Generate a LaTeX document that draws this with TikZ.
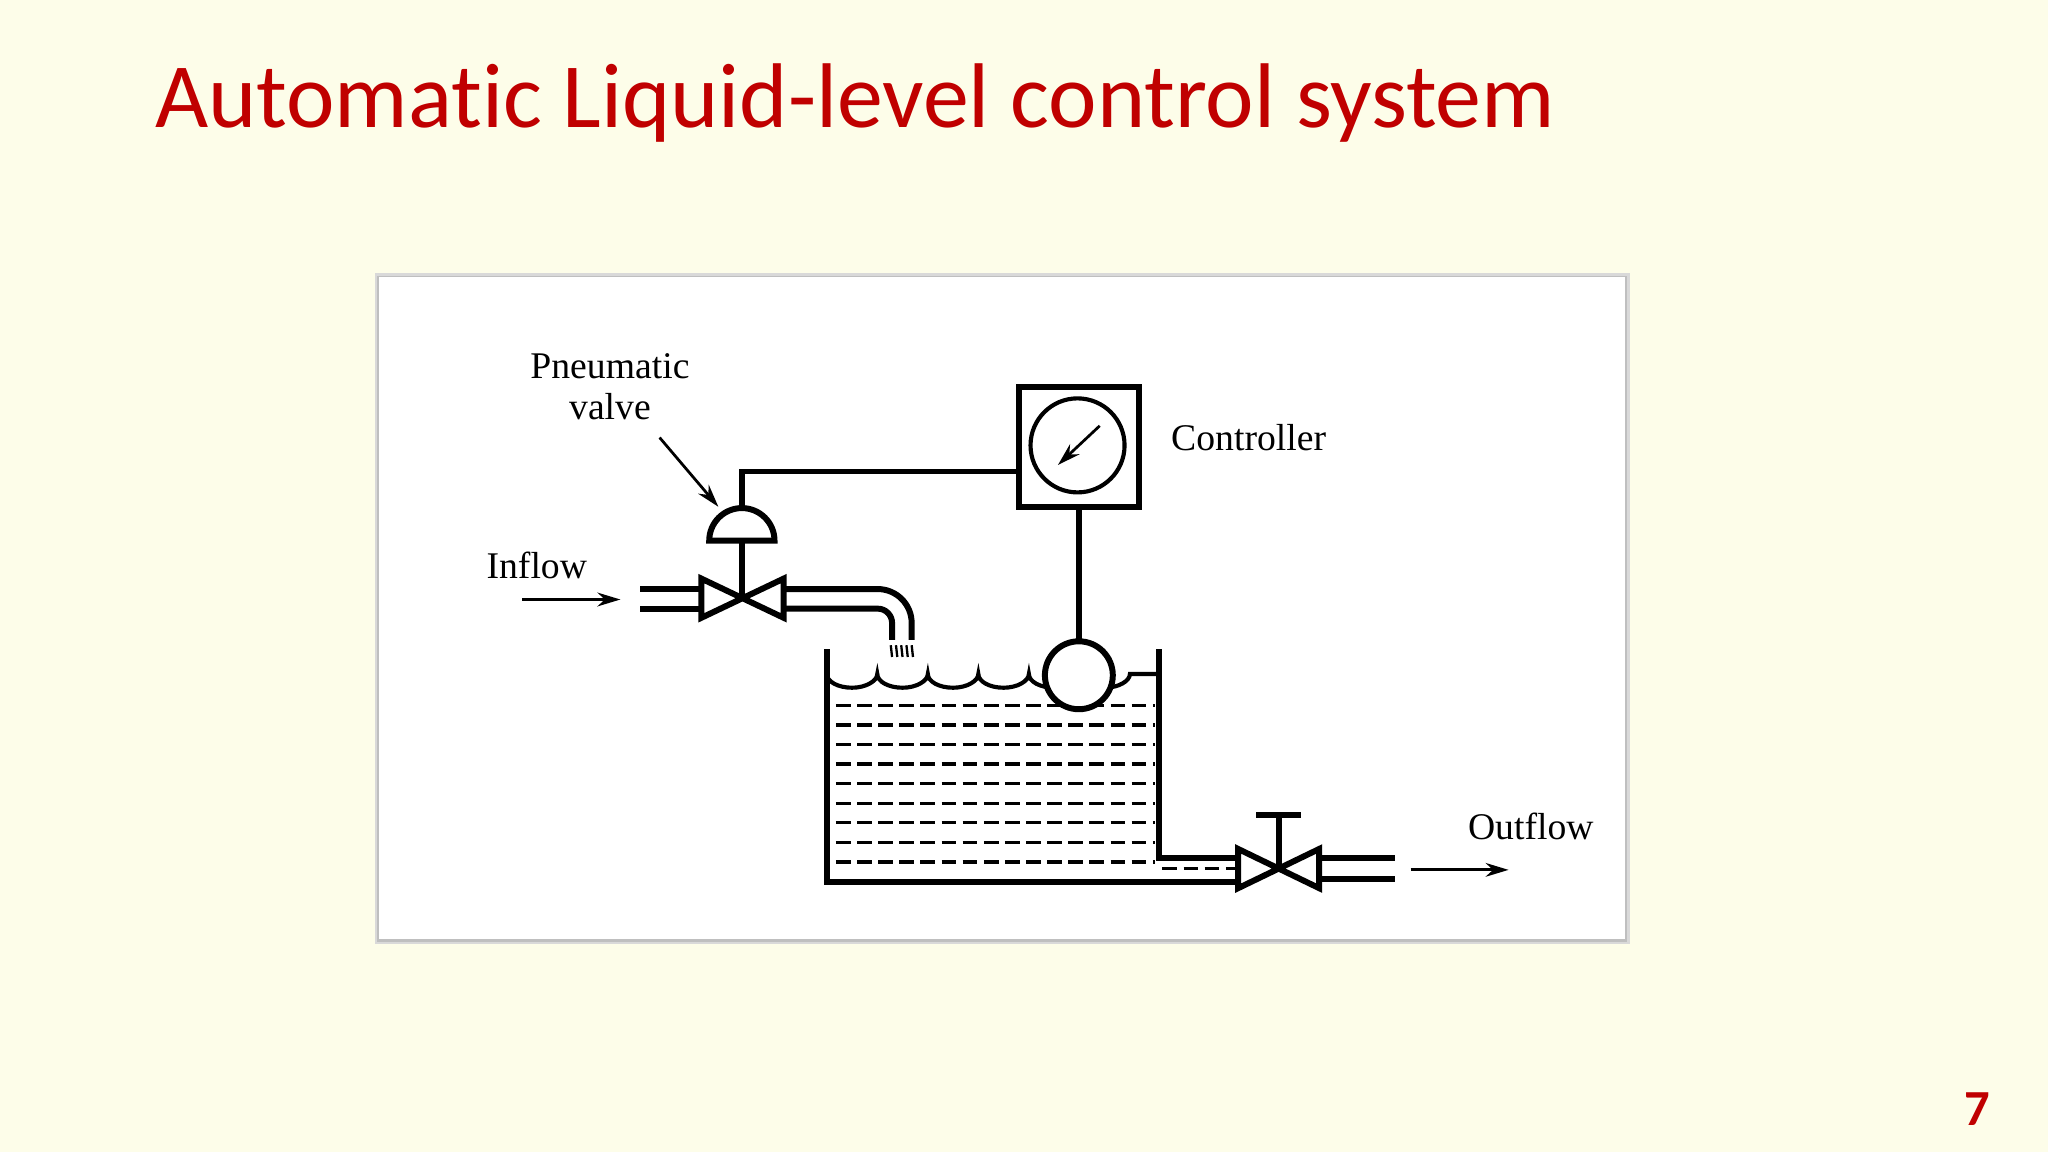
\documentclass[tikz,border=0pt]{standalone}
\usepackage{fontspec}
\setmainfont{Liberation Serif}
\newfontfamily\calfnt[Ligatures=NoCommon]{Carlito}
\usetikzlibrary{arrows.meta,decorations.pathmorphing}
\definecolor{bg}{HTML}{FDFDE9}
\definecolor{ttl}{HTML}{C00000}
\tikzset{pipe/.style={line width=1.3pt},lab/.style={font=\fontsize{8.2}{9}\selectfont},
arr/.style={-{Stealth[length=5pt,width=3pt]},line width=0.6pt},
dsh/.style={line width=0.7pt,dash pattern=on 3.2pt off 1.4pt}}
\begin{document}
\begin{tikzpicture}[x=0.01cm,y=-0.01cm]
\fill[bg] (0,0) rectangle (1568,882);
\useasboundingbox (0,0) rectangle (1568,882);
\node[anchor=base west,inner sep=0,text=ttl,font=\calfnt\fontsize{20}{24}\selectfont] (title) at (118,98) {Automatic Liquid-level control system};
\node[anchor=base,inner sep=0,text=ttl,font=\calfnt\bfseries\fontsize{11}{12}\selectfont] (pg) at (1514,862) {7};
\fill[black!15] (287,209) rectangle (1248,723);
\fill[black!25] (289,211) rectangle (1246,721);
\fill[white] (290,212) rectangle (1244,719);
% labels
\node[lab,anchor=base] (pv) at (467,290) {Pneumatic};
\node[lab,anchor=base] (pv2) at (467,321) {valve};
\node[lab] (ctl) at (956,335) {Controller};
\node[lab] (inf) at (411,433) {Inflow};
\node[lab] (outf) at (1172,633) {Outflow};
% controller
\draw[pipe] (780,296) rectangle (872,388);
\draw[line width=0.9pt] (825,341) circle (36);
\draw[arr] (842,326) -- (810,356);
% actuator
\coordinate (act) at (568,414);
\draw[pipe] (543,414) arc (180:360:25) -- cycle;
\draw[pipe] (568,389) -- (568,361) -- (780,361);
\draw[pipe] (568,414) -- (568,458);
\draw[arr] (505,335) -- (550,388);
% inflow valve
\draw[pipe] (537,443) -- (600,473) -- (600,443) -- (537,473) -- cycle;
\draw[pipe] (490,451) -- (537,451) (490,466) -- (537,466);
\draw[arr] (400,459) -- (475,459);
\draw[pipe] (600,451) -- (672,451) arc (-90:0:26) -- (698,490);
\draw[pipe] (600,466) -- (672,466) arc (-90:0:11) -- (683,490);
\foreach \x in {682,686,690,694,698} \draw[line width=0.5pt] (\x,494) -- (\x+1,503);
% tank
\draw[pipe] (633,497) -- (633,675) -- (948,675);
\draw[pipe] (887,497) -- (887,657) -- (948,657);
\draw[line width=0.9pt,decorate,decoration={bumps,segment length=22,amplitude=3,mirror}] (633,516) -- (887,516);
\foreach \y in {540,555,...,665} \draw[dsh] (640,\y) -- (884,\y);
\draw[dsh] (890,665) -- (946,665);
% float
\draw[pipe,fill=white] (826,517) circle (26);
\draw[pipe] (826,491) -- (826,388);
% outflow valve
\draw[pipe] (948,650) -- (1010,680) -- (1010,650) -- (948,680) -- cycle;
\draw[pipe] (979,665) -- (979,624) (962,624) -- (996,624);
\draw[pipe] (1010,657) -- (1068,657) (1010,673) -- (1068,673);
\draw[arr] (1080,666) -- (1155,666);
\end{tikzpicture}
\end{document}
